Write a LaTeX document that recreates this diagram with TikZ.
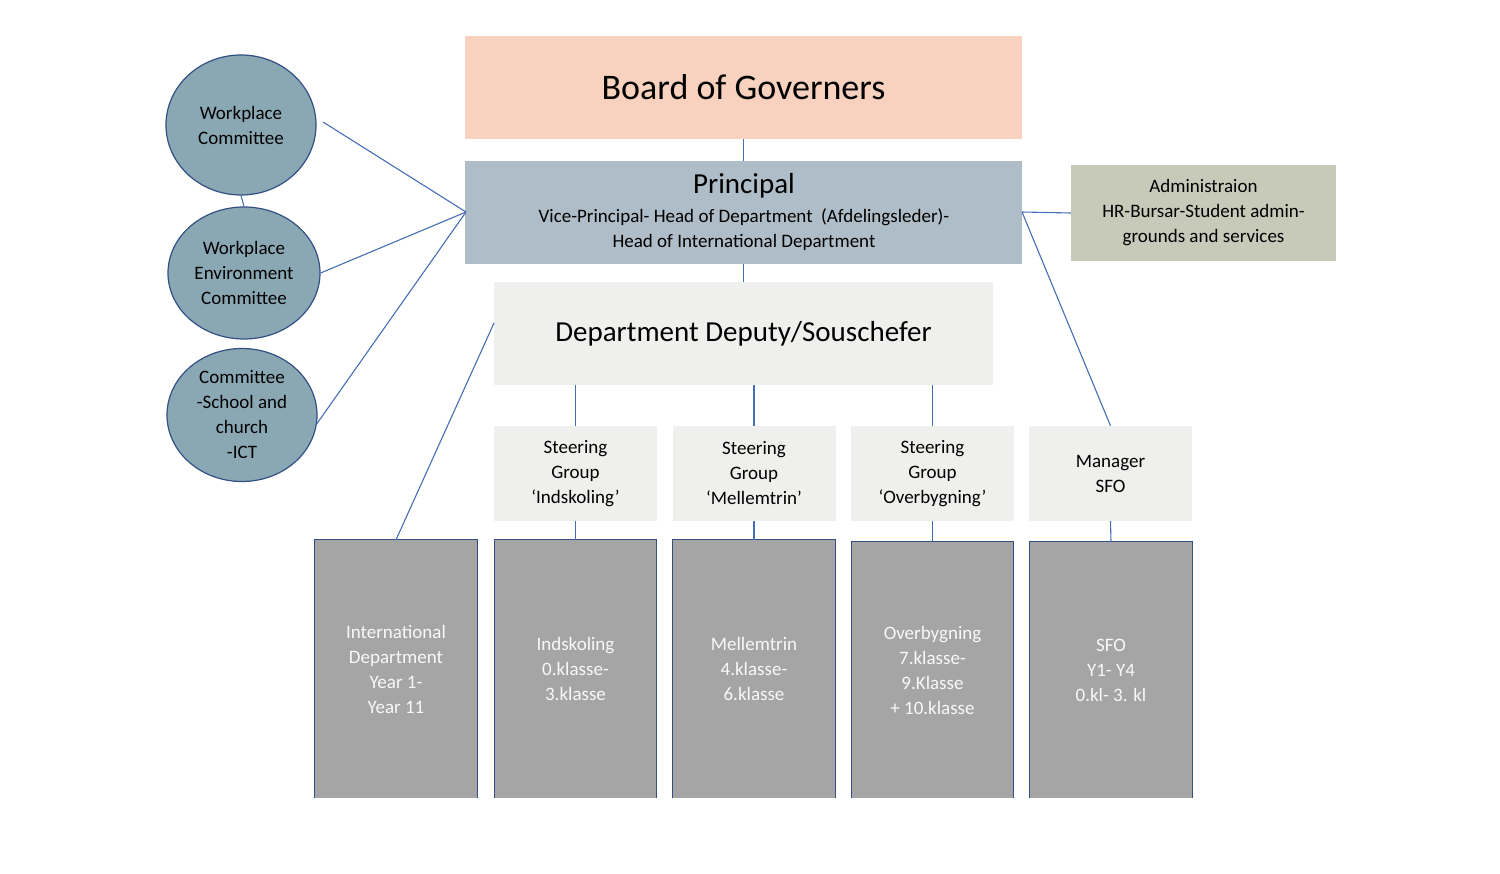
\documentclass[tikz,border=0pt]{standalone}
\usepackage{fontspec}
\setmainfont{Carlito}
\usetikzlibrary{shapes.geometric}
\definecolor{peach}{RGB}{248,210,190}
\definecolor{princ}{RGB}{174,189,199}
\definecolor{admin}{RGB}{200,202,185}
\definecolor{light}{RGB}{239,239,237}
\definecolor{dark}{RGB}{165,165,165}
\definecolor{circ}{RGB}{138,168,180}
\definecolor{edge}{RGB}{50,80,130}
\definecolor{ln}{RGB}{70,110,180}
\tikzset{
  box/.style={rectangle,inner sep=0pt,align=center,text=black},
  sm/.style={font=\fontsize{19}{25}\selectfont},
  steer/.style={box,fill=light,minimum width=163pt,minimum height=95pt,sm},
  low/.style={box,fill=dark,minimum width=162pt,minimum height=258pt,text=white!92!dark,sm},
  cir/.style={ellipse,draw=edge,line width=1.2pt,fill=circ,inner sep=0pt,align=center,sm},
  con/.style={draw=ln,line width=1.1pt}
}
\begin{document}
\begin{tikzpicture}[x=1pt,y=-1pt]
\useasboundingbox (0,0) rectangle (1500,874);
\node[box,fill=peach,minimum width=557pt,minimum height=103pt,font=\fontsize{36}{40}\selectfont] (board) at (743.5,87.5) {Board of Governers};
\node[box,fill=princ,minimum width=557pt,minimum height=103pt] (princ) at (743.5,212.5) {};
\node[font=\fontsize{29}{32}\selectfont] (ptitle) at (744,186) {Principal};
\node[sm,align=center] (psub) at (744,230) {Vice-Principal- Head of Department \ (Afdelingsleder)-\\Head of International Department};
\node[box,fill=admin,minimum width=265pt,minimum height=96pt,sm] (admin) at (1203.5,213) {Administraion\\HR-Bursar-Student admin-\\grounds and services};
\node[box,fill=light,minimum width=499pt,minimum height=103pt,font=\fontsize{29}{32}\selectfont] (dep) at (743.5,333.5) {Department Deputy/Souschefer};
\node[steer] (s1) at (575.5,473.5) {Steering\\Group\\‘Indskoling’};
\node[steer] (s2) at (754,473.5) {Steering\\Group\\‘Mellemtrin’};
\node[steer] (s3) at (932.5,473.5) {Steering\\Group\\‘Overbygning’};
\node[steer] (s4) at (1110.5,473.5) {Manager\\SFO};
\node[low] (b0) at (396,669) {International\\Department\\Year 1-\\Year 11};
\node[low] (b1) at (575.5,669) {Indskoling\\0.klasse-\\3.klasse};
\node[low] (b2) at (754,669) {Mellemtrin\\4.klasse-\\6.klasse};
\node[low,minimum height=256pt] (b3) at (932.5,670) {Overbygning\\7.klasse-\\9.Klasse\\+ 10.klasse};
\node[low,minimum height=256pt] (b4) at (1111,670) {SFO\\Y1- Y4\\0.kl- 3. kl};
\foreach \b in {b0,b1,b2,b3,b4}{\draw[edge,line width=1.2pt] (\b.south west)--(\b.north west)--(\b.north east)--(\b.south east);}
\node[cir,minimum width=150pt,minimum height=140pt] (c1) at (241,125) {Workplace\\Committee};
\node[cir,minimum width=152pt,minimum height=132pt] (c2) at (244,273) {Workplace\\Environment\\Committee};
\node[cir,minimum width=150pt,minimum height=133pt] (c3) at (242,415) {Committee\\-School and\\church\\-ICT};
\coordinate (pl) at (466,212);
\coordinate (pr) at (1022,212);
\draw[con] (c1.south) -- (c2.north);
\draw[con] (323,122) -- (pl);
\draw[con] (c2.east) -- (pl);
\draw[con] (316,425) -- (pl);
\draw[con] (board.south) -- (princ.north);
\draw[con] (princ.south) -- (dep.north);
\draw[con] (pr) -- (admin.west);
\draw[con] (pr) -- (s4.north);
\draw[con] (494,323) -- (b0.north);
\foreach \i in {1,2,3}{\draw[con] (dep.south -| s\i.north) -- (s\i.north);}
\foreach \i in {1,2,3,4}{\draw[con] (s\i.south) -- (b\i.north);}
\end{tikzpicture}
\end{document}
